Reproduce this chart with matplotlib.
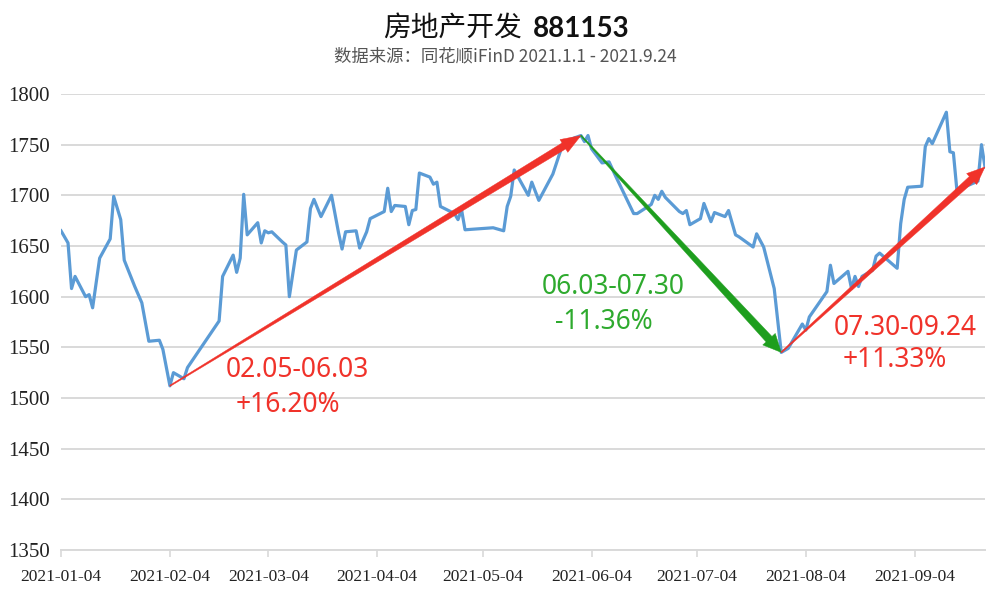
import numpy as np
import matplotlib
matplotlib.use("Agg")
import matplotlib.pyplot as plt
import matplotlib.dates as mdates
from matplotlib.patches import Polygon
from matplotlib.transforms import IdentityTransform
import datetime as dt

# 房地产开发 881153 daily close
dates = [
    "2021-01-04", "2021-01-06", "2021-01-07", "2021-01-08", "2021-01-11", "2021-01-12",
    "2021-01-13", "2021-01-15", "2021-01-18", "2021-01-19", "2021-01-21", "2021-01-22",
    "2021-01-25", "2021-01-27", "2021-01-29", "2021-02-01", "2021-02-02", "2021-02-04",
    "2021-02-05", "2021-02-08", "2021-02-09", "2021-02-18", "2021-02-19", "2021-02-22",
    "2021-02-23", "2021-02-24", "2021-02-25", "2021-02-26", "2021-03-01", "2021-03-02",
    "2021-03-03", "2021-03-04", "2021-03-05", "2021-03-08", "2021-03-09", "2021-03-10",
    "2021-03-12", "2021-03-15", "2021-03-16", "2021-03-17", "2021-03-19", "2021-03-22",
    "2021-03-24", "2021-03-25", "2021-03-26", "2021-03-29", "2021-03-30", "2021-04-01",
    "2021-04-02", "2021-04-06", "2021-04-07", "2021-04-08", "2021-04-09", "2021-04-12",
    "2021-04-13", "2021-04-14", "2021-04-15", "2021-04-16", "2021-04-19", "2021-04-20",
    "2021-04-21", "2021-04-22", "2021-04-26", "2021-04-27", "2021-04-28", "2021-04-29",
    "2021-05-07", "2021-05-10", "2021-05-11", "2021-05-12", "2021-05-13", "2021-05-17",
    "2021-05-18", "2021-05-20", "2021-05-24", "2021-05-26", "2021-05-27", "2021-05-28",
    "2021-06-01", "2021-06-02", "2021-06-03", "2021-06-04", "2021-06-07", "2021-06-09",
    "2021-06-11", "2021-06-16", "2021-06-17", "2021-06-21", "2021-06-22", "2021-06-23",
    "2021-06-24", "2021-06-25", "2021-06-29", "2021-06-30", "2021-07-01", "2021-07-02",
    "2021-07-05", "2021-07-06", "2021-07-08", "2021-07-09", "2021-07-12", "2021-07-13",
    "2021-07-15", "2021-07-16", "2021-07-20", "2021-07-21", "2021-07-23", "2021-07-26",
    "2021-07-28", "2021-07-30", "2021-08-03", "2021-08-04", "2021-08-05", "2021-08-09",
    "2021-08-10", "2021-08-11", "2021-08-12", "2021-08-16", "2021-08-17", "2021-08-18",
    "2021-08-19", "2021-08-20", "2021-08-23", "2021-08-24", "2021-08-25", "2021-08-30",
    "2021-08-31", "2021-09-01", "2021-09-02", "2021-09-06", "2021-09-07", "2021-09-08",
    "2021-09-09", "2021-09-13", "2021-09-14", "2021-09-15", "2021-09-16", "2021-09-22",
    "2021-09-23", "2021-09-24",
]
close = [
    1665, 1653, 1608, 1620, 1600, 1602,
    1589, 1638, 1657, 1699, 1676, 1636,
    1610, 1594, 1556, 1557, 1548, 1512,
    1525, 1519, 1530, 1576, 1620, 1641,
    1624, 1638, 1701, 1661, 1673, 1653,
    1665, 1663, 1664, 1654, 1651, 1600,
    1646, 1654, 1687, 1696, 1679, 1700,
    1663, 1647, 1664, 1665, 1648, 1664,
    1677, 1684, 1707, 1684, 1690, 1689,
    1671, 1685, 1686, 1722, 1718, 1711,
    1713, 1689, 1682, 1676, 1686, 1666,
    1668, 1665, 1689, 1699, 1725, 1700,
    1713, 1695, 1721, 1742, 1752, 1754,
    1759, 1753, 1759, 1746, 1732, 1733,
    1718, 1682, 1682, 1691, 1700, 1696,
    1704, 1698, 1684, 1682, 1685, 1671,
    1677, 1692, 1674, 1683, 1679, 1685,
    1661, 1659, 1649, 1662, 1649, 1608,
    1545, 1549, 1573, 1567, 1580, 1600,
    1605, 1631, 1613, 1625, 1608, 1620,
    1610, 1620, 1626, 1640, 1643, 1628,
    1672, 1696, 1708, 1709, 1748, 1756,
    1751, 1782, 1743, 1742, 1705, 1714,
    1750, 1728,
]

# trend arrows: start / end dates (points on the series) and labels
arrow_from = ["2021-02-04", "2021-06-01", "2021-07-28"]
arrow_to = ["2021-06-01", "2021-07-28", "2021-09-24"]
arrow_period = ["02.05-06.03", "06.03-07.30", "07.30-09.24"]
arrow_change = ["+16.20%", "-11.36%", "+11.33%"]

x_ticks = ["2021-01-04", "2021-02-04", "2021-03-04", "2021-04-04", "2021-05-04",
           "2021-06-04", "2021-07-04", "2021-08-04", "2021-09-04"]
y_ticks = [1350, 1400, 1450, 1500, 1550, 1600, 1650, 1700, 1750, 1800]

RED = "#F0322A"
GREEN = "#1E9E1E"
GREEN_TXT = "#2EAA2E"
BLUE = "#5B9BD5"

to_date = lambda s: dt.datetime.strptime(s, "%Y-%m-%d")
xd = [to_date(s) for s in dates]
series = dict(zip(dates, close))

fig = plt.figure(figsize=(10, 5.93), dpi=100)
ax = fig.add_axes([0.061, 0.0725, 0.924, 0.769])

ax.plot(xd, close, color=BLUE, linewidth=2.3, solid_joinstyle="round", zorder=3)

ax.set_xlim(to_date("2021-01-04"), to_date("2021-09-24"))
ax.set_ylim(1350, 1800)
ax.set_yticks(y_ticks)
ax.set_xticks([to_date(s) for s in x_ticks])
ax.xaxis.set_major_formatter(mdates.DateFormatter("%Y-%m-%d"))
ax.grid(axis="y", color="#D9D9D9", linewidth=1.4)
ax.set_axisbelow(True)
for side in ["top", "right", "left"]:
    ax.spines[side].set_visible(False)
ax.spines["bottom"].set_color("#D9D9D9")
ax.spines["bottom"].set_linewidth(1.4)
ax.tick_params(axis="y", length=0, pad=8, labelsize=15, labelcolor="#222222")
ax.tick_params(axis="x", length=5, width=1.2, color="#D9D9D9", pad=9,
               labelsize=12.5, labelcolor="#222222")
for lab in ax.get_xticklabels() + ax.get_yticklabels():
    lab.set_family("Liberation Serif")


def taper_arrow(d0, d1, color, w0, w1, head_w, head_len):
    # tapered arrow drawn in pixel space between two points of the series
    p0 = ax.transData.transform((mdates.date2num(to_date(d0)), series[d0]))
    p1 = ax.transData.transform((mdates.date2num(to_date(d1)), series[d1]))
    v = p1 - p0
    u = v / np.hypot(*v)
    n = np.array([-u[1], u[0]])
    hb = p1 - u * head_len
    pts = [p0 + n * w0 / 2, hb + n * w1 / 2, hb + n * head_w / 2, p1,
           hb - n * head_w / 2, hb - n * w1 / 2, p0 - n * w0 / 2]
    ax.add_patch(Polygon(pts, closed=True, facecolor=color, edgecolor=color,
                         linewidth=0.3, transform=IdentityTransform(),
                         clip_on=False, zorder=5))


taper_arrow(arrow_from[0], arrow_to[0], RED, 1.2, 7, 15, 20)
taper_arrow(arrow_from[1], arrow_to[1], GREEN, 1.2, 8, 17, 18)
taper_arrow(arrow_from[2], arrow_to[2], RED, 1.2, 7, 15, 18)

ann_font = dict(family="Noto Sans", fontsize=19, ha="center", va="center")
fig.text(0.297, 1 - 370 / 593, arrow_period[0], color=RED, **ann_font)
fig.text(0.288, 1 - 405 / 593, arrow_change[0], color=RED, **ann_font)
fig.text(0.613, 1 - 287 / 593, arrow_period[1], color=GREEN_TXT, **ann_font)
fig.text(0.604, 1 - 322 / 593, arrow_change[1], color=GREEN_TXT, **ann_font)
fig.text(0.905, 1 - 328 / 593, arrow_period[2], color=RED, **ann_font)
fig.text(0.895, 1 - 360 / 593, arrow_change[2], color=RED, **ann_font)

fig.text(0.383, 1 - 28 / 593, "房地产开发", family=["Noto Sans CJK SC", "DejaVu Sans"],
         fontsize=20, ha="left", va="center", color="#111111")
fig.text(0.533, 1 - 29 / 593, "881153", family=["Lato", "DejaVu Sans"], fontweight="bold",
         fontsize=20, ha="left", va="center", color="#111111")
fig.text(0.505, 1 - 56 / 593, "数据来源：同花顺iFinD 2021.1.1 - 2021.9.24",
         family=["Noto Sans CJK SC", "DejaVu Sans"], fontsize=12.5,
         ha="center", va="center", color="#555555")

fig.savefig("out.png", dpi=100, facecolor="white")
